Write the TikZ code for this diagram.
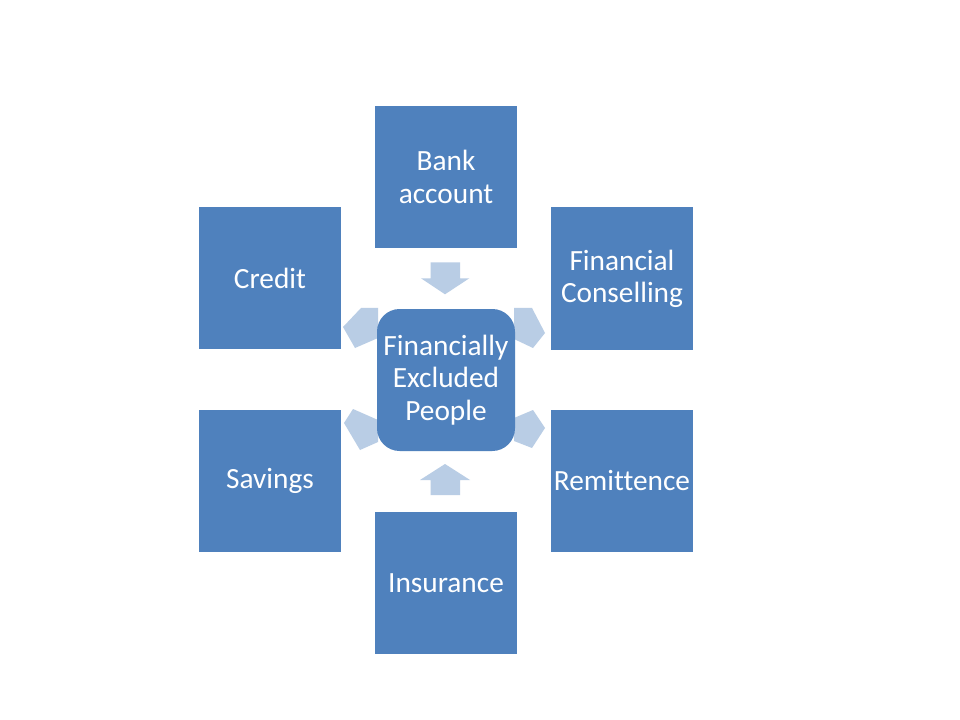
\documentclass[tikz,border=0pt]{standalone}
\usepackage{fontspec}
\setmainfont{Carlito}[Ligatures={NoCommon}]
\definecolor{boxblue}{HTML}{4F81BD}
\definecolor{arrowblue}{HTML}{B9CDE5}
\begin{document}
\begin{tikzpicture}[x=0.75pt,y=-0.75pt,
  sqbox/.style={fill=boxblue,draw=none,minimum width=106.5pt,minimum height=106.5pt,inner sep=0pt,
    text=white,align=center,font=\fontsize{22}{24.2}\selectfont},
  hubbox/.style={sqbox,rounded corners=17pt,minimum width=103.5pt},
  blockarrow/.style={fill=arrowblue,draw=none}]
\useasboundingbox (0,0) rectangle (960,720);
\fill[white] (0,0) rectangle (960,720);
% outer boxes
\node[sqbox] (bank) at (446,177) {Bank\\account};
\node[sqbox] (credit) at (270,278) {Credit};
\node[sqbox] (fincons) at (622,278.5) {Financial\\Conselling};
\node[sqbox] (savings) at (270,481) {Savings};
\node[sqbox] (remit) at (622,481) {Remittence};
\node[sqbox] (insur) at (446,583) {Insurance};
% block arrows
\fill[blockarrow] (430.7,262.3) -- (460,262.3) -- (460,278.3) -- (469.3,278.3) -- (445,294.3) -- (421,278.3) -- (430.7,278.3) -- cycle;
\fill[blockarrow] (430.7,495) -- (460,495) -- (460,480) -- (470,480) -- (445,464) -- (420,480) -- (430.7,480) -- cycle;
\fill[blockarrow] (343,327) -- (361,308) -- (378,308) -- (378,338) -- (355,348) -- cycle;
\fill[blockarrow] (514,308) -- (532,308) -- (545,333) -- (533,348) -- (514,339) -- cycle;
\fill[blockarrow] (344,423) -- (353,409) -- (378,420) -- (378,442) -- (360,450) -- cycle;
\fill[blockarrow] (514,418) -- (533,410) -- (545,428) -- (532,448) -- (514,441) -- cycle;
% hub
\node[hubbox] (hub) at (446,380) {Financially\\Excluded\\People};
\end{tikzpicture}
\end{document}
